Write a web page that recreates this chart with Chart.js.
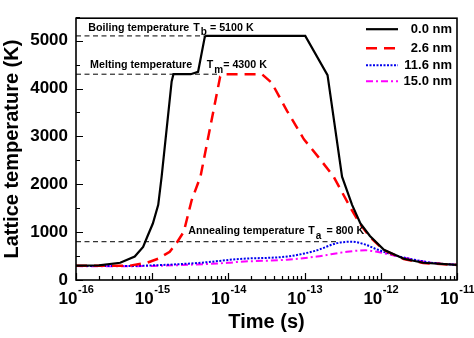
<!DOCTYPE html>
<html>
<head>
<meta charset="utf-8">
<script src="https://cdn.jsdelivr.net/npm/chart.js@4.4.1/dist/chart.umd.min.js"></script>
<style>
  body { margin: 0; background: #fff; }
  #wrap { width: 474px; height: 338px; }
</style>
</head>
<body>
<div id="wrap"><canvas id="tempChart" width="474" height="338"></canvas></div>
<script>
const FONT = "'Liberation Sans', Arial, sans-serif";

// series names
const seriesLabels = ["0.0 nm", "2.6 nm", "11.6 nm", "15.0 nm"];

// time (s) and lattice temperature (K) for each thickness
const time00 = [1e-16, 2.0e-16, 3.8e-16, 5.9e-16, 7.6e-16, 8.7e-16, 1.02e-15, 1.2e-15, 1.33e-15, 1.8e-15, 1.9e-15, 3.2e-15, 4.0e-15, 4.9e-15, 5.1e-15, 1.02e-13, 2.0e-13, 3.1e-13, 4.2e-13, 5.4e-13, 7.2e-13, 1.1e-12, 2.0e-12, 3.6e-12, 1e-11];
const temp00 = [300, 305, 360, 490, 690, 920, 1180, 1570, 2160, 4150, 4300, 4300, 4350, 5080, 5100, 5100, 4280, 2160, 1570, 1180, 920, 630, 445, 360, 315];

const time26 = [1e-16, 5.1e-16, 8.5e-16, 1.2e-15, 1.7e-15, 2.1e-15, 2.6e-15, 3.3e-15, 4.3e-15, 7.8e-15, 8.5e-15, 2.75e-14, 3.7e-14, 5.9e-14, 9.8e-14, 1.55e-13, 2.4e-13, 4.0e-13, 5.4e-13, 7.2e-13, 1.1e-12, 2.0e-12, 3.6e-12, 1e-11];
const temp26 = [300, 300, 360, 445, 590, 780, 1010, 1670, 2160, 4250, 4300, 4300, 4120, 3530, 2940, 2550, 2160, 1510, 1160, 900, 620, 440, 355, 315];

const time116 = [1e-16, 3.2e-16, 1e-15, 4.3e-15, 1.4e-14, 5.9e-14, 1e-13, 1.45e-13, 2.66e-13, 4.2e-13, 6.0e-13, 8.9e-13, 1.5e-12, 2.7e-12, 5.0e-12, 1e-11];
const temp116 = [290, 290, 305, 360, 440, 490, 555, 620, 770, 800, 750, 640, 520, 425, 355, 315];

const time150 = [1e-16, 3.2e-16, 1e-15, 3.2e-15, 1e-14, 1.4e-14, 5.9e-14, 1.45e-13, 3.6e-13, 6.3e-13, 8.9e-13, 1.4e-12, 2.7e-12, 5.0e-12, 1e-11];
const temp150 = [290, 285, 295, 320, 360, 380, 425, 490, 590, 620, 590, 520, 425, 355, 315];

// reference temperatures (boiling, melting, annealing) and where their dashed lines end
const refTemps = [5100, 4300, 800];
const refEnds = [4.9e-15, 7.8e-15, 2.66e-13];

// tick values
const xTicks = [1e-16, 1e-15, 1e-14, 1e-13, 1e-12, 1e-11];
const yTicks = [0, 1000, 2000, 3000, 4000, 5000];

const toPoints = (ts, vs) => ts.map((t, i) => ({ x: t, y: vs[i] }));

const curves = [
  { label: seriesLabels[0], data: toPoints(time00, temp00), borderColor: "#000000", borderWidth: 2.2, borderDash: [] },
  { label: seriesLabels[1], data: toPoints(time26, temp26), borderColor: "#ff0000", borderWidth: 2.5, borderDash: [11, 7] },
  { label: seriesLabels[2], data: toPoints(time116, temp116), borderColor: "#0000ee", borderWidth: 2, borderDash: [2, 1.5], cubicInterpolationMode: "monotone" },
  { label: seriesLabels[3], data: toPoints(time150, temp150), borderColor: "#ff00ff", borderWidth: 2, borderDash: [7, 3, 2, 3], cubicInterpolationMode: "monotone" }
];

const refLines = refTemps.map((t, i) => ({
  label: "",
  data: [{ x: xTicks[0], y: t }, { x: refEnds[i], y: t }],
  borderColor: "#000000",
  borderWidth: 1,
  borderDash: [5, 3.5]
}));

const notes = [
  { x: 1.45e-16, y: 5274, text: "Boiling temperature", tOff: 105, sub: "b", restGap: 3, rest: "= 5100 K" },
  { x: 1.53e-16, y: 4490, text: "Melting temperature", tOff: 116.7, sub: "m", restGap: 0, rest: "= 4300 K" },
  { x: 2.98e-15, y: 1029, text: "Annealing temperature", tOff: 120, sub: "a", restGap: 5, rest: "= 800 K" }
];

const decorations = {
  id: "decorations",
  afterDraw(chart) {
    const { ctx, chartArea: a, scales: { x, y } } = chart;
    ctx.save();

    // inward ticks
    ctx.strokeStyle = "#000";
    ctx.lineWidth = 1.2;
    ctx.beginPath();
    xTicks.forEach(v => {
      const px = Math.round(x.getPixelForValue(v)) + 0.5;
      ctx.moveTo(px, a.bottom); ctx.lineTo(px, a.bottom - 7);
    });
    for (let e = -16; e < -11; e++) {
      for (let k = 2; k <= 9; k++) {
        const px = Math.round(x.getPixelForValue(k * Math.pow(10, e))) + 0.5;
        ctx.moveTo(px, a.bottom); ctx.lineTo(px, a.bottom - 4);
      }
    }
    yTicks.forEach(v => {
      const py = Math.round(y.getPixelForValue(v)) + 0.5;
      ctx.moveTo(a.left, py); ctx.lineTo(a.left + 7, py);
      const pm = Math.round(y.getPixelForValue(v + 500)) + 0.5;
      ctx.moveTo(a.left, pm); ctx.lineTo(a.left + 4, pm);
    });
    ctx.stroke();

    // frame
    ctx.lineWidth = 1.6;
    ctx.strokeRect(a.left, a.top, a.width, a.height);

    // x tick labels with superscript exponents
    ctx.fillStyle = "#000";
    ctx.textBaseline = "middle";
    ctx.textAlign = "left";
    xTicks.forEach(v => {
      const px = x.getPixelForValue(v);
      const exp = String(Math.round(Math.log10(v)));
      ctx.font = "bold 17px " + FONT;
      const wb = ctx.measureText("10").width;
      ctx.font = "bold 11px " + FONT;
      const we = ctx.measureText(exp).width;
      const left = px - (wb + we) / 2;
      ctx.font = "bold 17px " + FONT;
      ctx.fillText("10", left, a.bottom + 19);
      ctx.font = "bold 11px " + FONT;
      ctx.fillText(exp, left + wb + 0.5, a.bottom + 10);
    });

    // reference temperature notes
    notes.forEach(n => {
      const px = x.getPixelForValue(n.x);
      const py = y.getPixelForValue(n.y);
      ctx.font = "bold 10.7px " + FONT;
      ctx.fillText(n.text, px, py);
      let cx = px + n.tOff;
      ctx.fillText("T", cx, py);
      cx += ctx.measureText("T").width + 1;
      ctx.font = "bold 10px " + FONT;
      ctx.fillText(n.sub, cx, py + 5);
      cx += ctx.measureText(n.sub).width + n.restGap;
      ctx.font = "bold 10.7px " + FONT;
      ctx.fillText(n.rest, cx, py);
    });

    // legend
    const rows = [12, 31, 48, 64];
    chart.data.datasets.filter(d => d.label).forEach((d, i) => {
      const ly = a.top + rows[i] - 1;
      ctx.strokeStyle = d.borderColor;
      ctx.lineWidth = d.borderWidth;
      ctx.setLineDash(d.borderDash);
      ctx.beginPath();
      ctx.moveTo(a.right - 91, ly);
      ctx.lineTo(a.right - 59, ly);
      ctx.stroke();
      ctx.setLineDash([]);
      ctx.font = "bold 13px " + FONT;
      ctx.textAlign = "right";
      ctx.fillStyle = "#000";
      ctx.fillText(d.label, a.right - 5, ly);
      ctx.textAlign = "left";
    });

    ctx.restore();
  }
};

new Chart(document.getElementById("tempChart"), {
  type: "line",
  data: { datasets: curves.concat(refLines) },
  options: {
    responsive: false,
    animation: false,
    devicePixelRatio: 1,
    layout: { padding: { top: 1, right: 17, left: 0, bottom: 0 } },
    elements: { point: { radius: 0 }, line: { tension: 0, fill: false } },
    plugins: { legend: { display: false }, tooltip: { enabled: false } },
    scales: {
      x: {
        type: "logarithmic",
        min: 1e-16,
        max: 1e-11,
        grid: { display: false, drawTicks: false },
        border: { display: false },
        ticks: { display: false },
        afterBuildTicks: s => { s.ticks = xTicks.map(v => ({ value: v })); },
        afterFit: s => { s.height = 58; },
        title: {
          display: true,
          text: "Time (s)",
          color: "#000",
          font: { family: FONT, size: 20, weight: "bold" },
          padding: { top: 0, bottom: 4 }
        }
      },
      y: {
        min: 0,
        max: 5470,
        grid: { display: false, drawTicks: false },
        border: { display: false },
        afterBuildTicks: s => { s.ticks = yTicks.map(v => ({ value: v })); },
        afterFit: s => { s.width = 76; },
        ticks: {
          color: "#000",
          padding: 8,
          font: { family: FONT, size: 17, weight: "bold" },
          callback: v => String(v)
        },
        title: {
          display: true,
          text: "Lattice temperature (K)",
          color: "#000",
          font: { family: FONT, size: 20, weight: "bold" },
          padding: { top: 0, bottom: 0 }
        }
      }
    }
  },
  plugins: [decorations]
});
</script>
</body>
</html>
